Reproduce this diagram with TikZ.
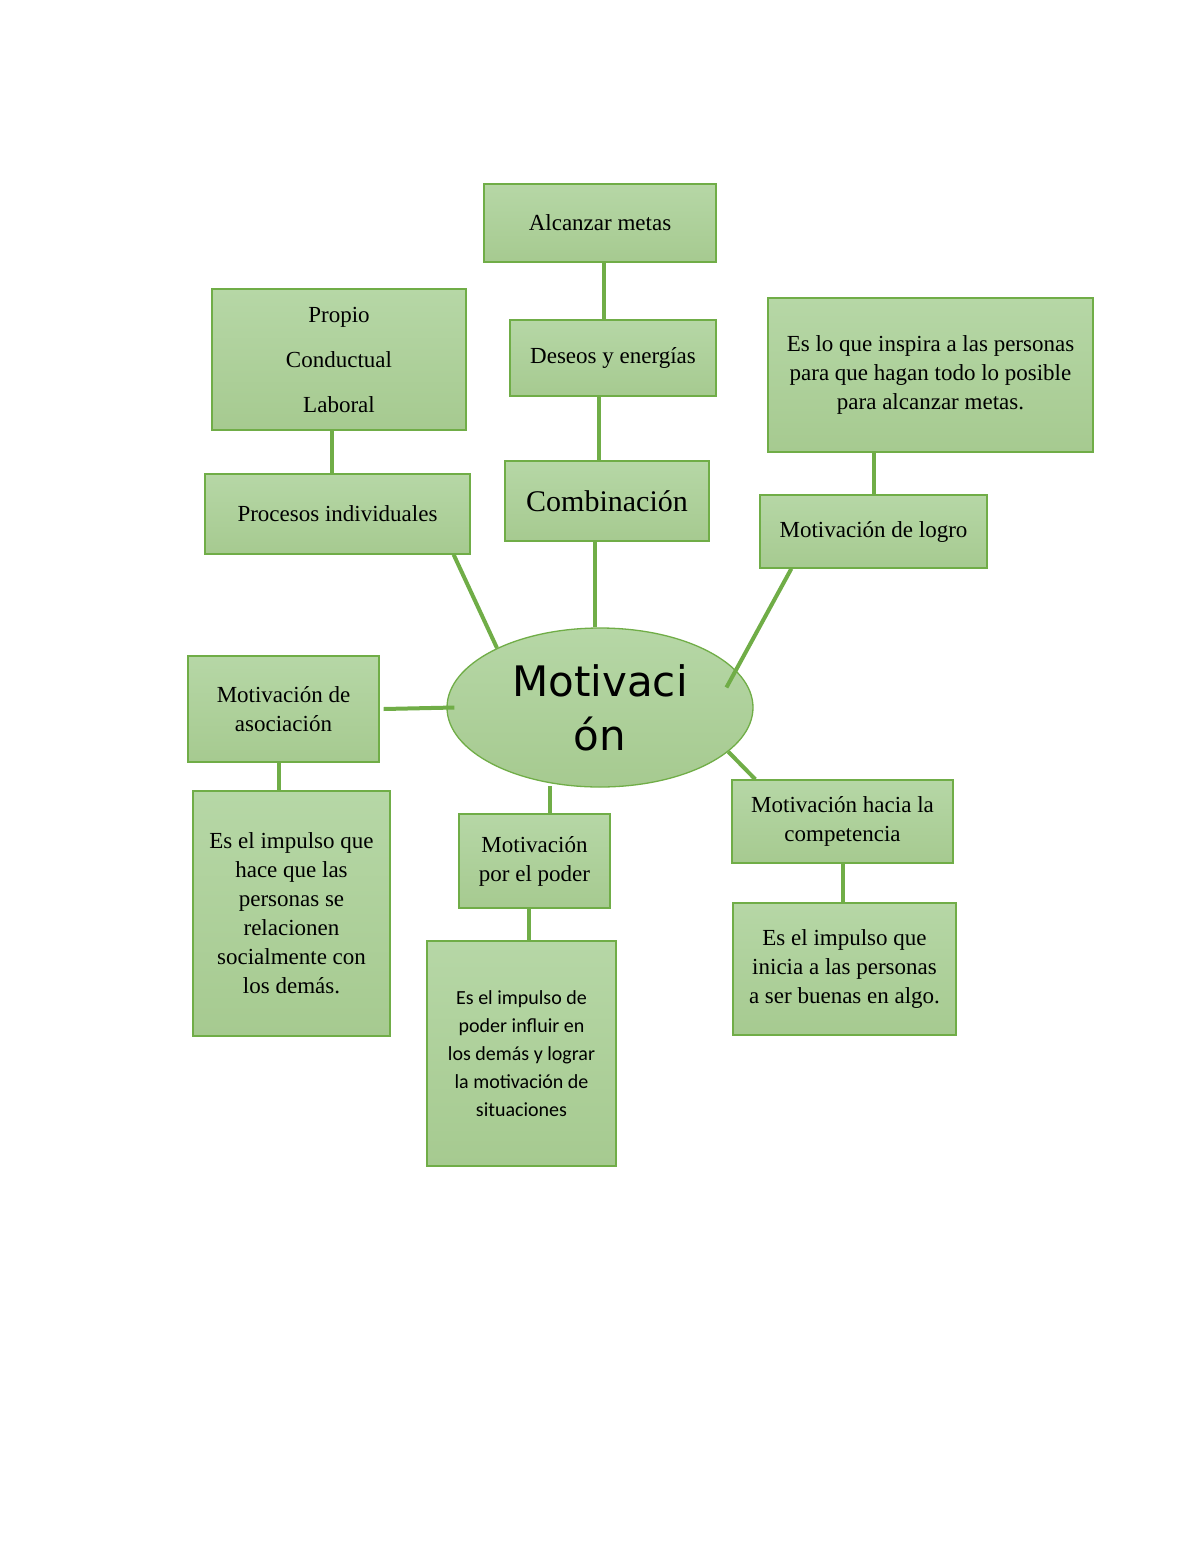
\documentclass[tikz,border=0pt]{standalone}
\usepackage{fontspec}
\setmainfont{Liberation Serif}
\newfontfamily\ovalfont{DejaVu Sans}
\newfontfamily\notefont{Carlito}
\usetikzlibrary{shapes.geometric,calc}
\definecolor{MapGreen}{HTML}{70AD47}
\definecolor{MapTop}{HTML}{B6D7A6}
\definecolor{MapBottom}{HTML}{A6CA90}

\begin{document}
\begin{tikzpicture}[x=1pt,y=-1pt,
    box/.style={draw=MapGreen,line width=1.3pt,top color=MapTop,bottom color=MapBottom,
                inner sep=0pt,align=center,font=\fontsize{23}{29}\selectfont},
    link/.style={draw=MapGreen,line width=4pt}
  ]
  \useasboundingbox (0,0) rectangle (1200,1553);
  % upper branch
  \node[box,minimum width=232pt,minimum height=78pt] (alcanzar) at (600,223) {Alcanzar metas};
  \node[box,minimum width=206pt,minimum height=76pt] (deseos) at (613,358) {Deseos y energías};
  \node[box,minimum width=204pt,minimum height=80pt,font=\fontsize{30}{36}\selectfont] (combinacion) at (607,501) {Combinación};
  \node[box,minimum width=254pt,minimum height=141pt,font=\fontsize{23}{45}\selectfont] (propio) at (339,359.5) {Propio\\Conductual\\Laboral};
  \node[box,minimum width=265pt,minimum height=80pt] (procesos) at (337.5,514) {Procesos individuales};
  \node[box,minimum width=325pt,minimum height=154pt] (inspira) at (930.5,375) {Es lo que inspira a las personas\\para que hagan todo lo posible\\para alcanzar metas.};
  \node[box,minimum width=227pt,minimum height=73pt] (logro) at (873.5,531.5) {Motivación de logro};
  % centre
  \node[ellipse,draw=MapGreen,line width=1.3pt,top color=MapTop,bottom color=MapBottom,
        minimum width=306pt,minimum height=159pt,inner sep=0pt,align=center,
        font=\ovalfont\fontsize{42}{54}\selectfont] (motiv) at (600,707.5) {Motivaci\\ón};
  % lower branch
  \node[box,minimum width=191pt,minimum height=106pt] (asociacion) at (283.5,709) {Motivación de\\asociación};
  \node[box,minimum width=197pt,minimum height=245pt] (asocdesc) at (291.5,913.5) {Es el impulso que\\hace que las\\personas se\\relacionen\\socialmente con\\los demás.};
  \node[box,minimum width=151pt,minimum height=94pt] (poder) at (534.5,861) {Motivación\\por el poder};
  \node[box,minimum width=189pt,minimum height=225pt,font=\notefont\fontsize{20}{28}\selectfont] (poderdesc) at (521.5,1053.5) {Es el impulso de\\poder influir en\\los demás y lograr\\la motivación de\\situaciones};
  \node[box,minimum width=221pt,minimum height=83pt] (competencia) at (842.5,821.5) {Motivación hacia la\\competencia};
  \node[box,minimum width=223pt,minimum height=132pt] (compdesc) at (844.5,969) {Es el impulso que\\inicia a las personas\\a ser buenas en algo.};

  \draw[link] ([xshift=4pt]alcanzar.south) -- ([xshift=4pt]alcanzar.south |- deseos.north);
  \draw[link] ([xshift=-14pt]deseos.south) -- ([xshift=-14pt]deseos.south |- combinacion.north);
  \draw[link] ([xshift=-12pt]combinacion.south) -- ([xshift=-12pt]combinacion.south |- motiv.north);
  \draw[link] ([xshift=-7pt]propio.south) -- ([xshift=-7pt]propio.south |- procesos.north);
  \draw[link] ([xshift=-57pt]inspira.south) -- ([xshift=-57pt]inspira.south |- logro.north);
  \draw[link] ([xshift=-17pt]procesos.south east) -- (motiv.150);
  \draw[link] ([xshift=32pt]logro.south west) -- ($(motiv.center)!0.86!(motiv.9)$);
  \draw[link] ([xshift=4pt]asociacion.east) -- ([xshift=8pt]motiv.west);
  \draw[link] ([xshift=-5pt]asociacion.south) -- ([xshift=-5pt]asociacion.south |- asocdesc.north);
  \draw[link] ([xshift=15pt]poder.north) -- ([xshift=15pt,yshift=2pt]poder.north |- motiv.south);
  \draw[link] ([xshift=-6pt]poder.south) -- ([xshift=-6pt]poder.south |- poderdesc.north);
  \draw[link] (motiv.-19) -- ([xshift=24pt]competencia.north west);
  \draw[link] (competencia.south) -- (competencia.south |- compdesc.north);
\end{tikzpicture}
\end{document}
